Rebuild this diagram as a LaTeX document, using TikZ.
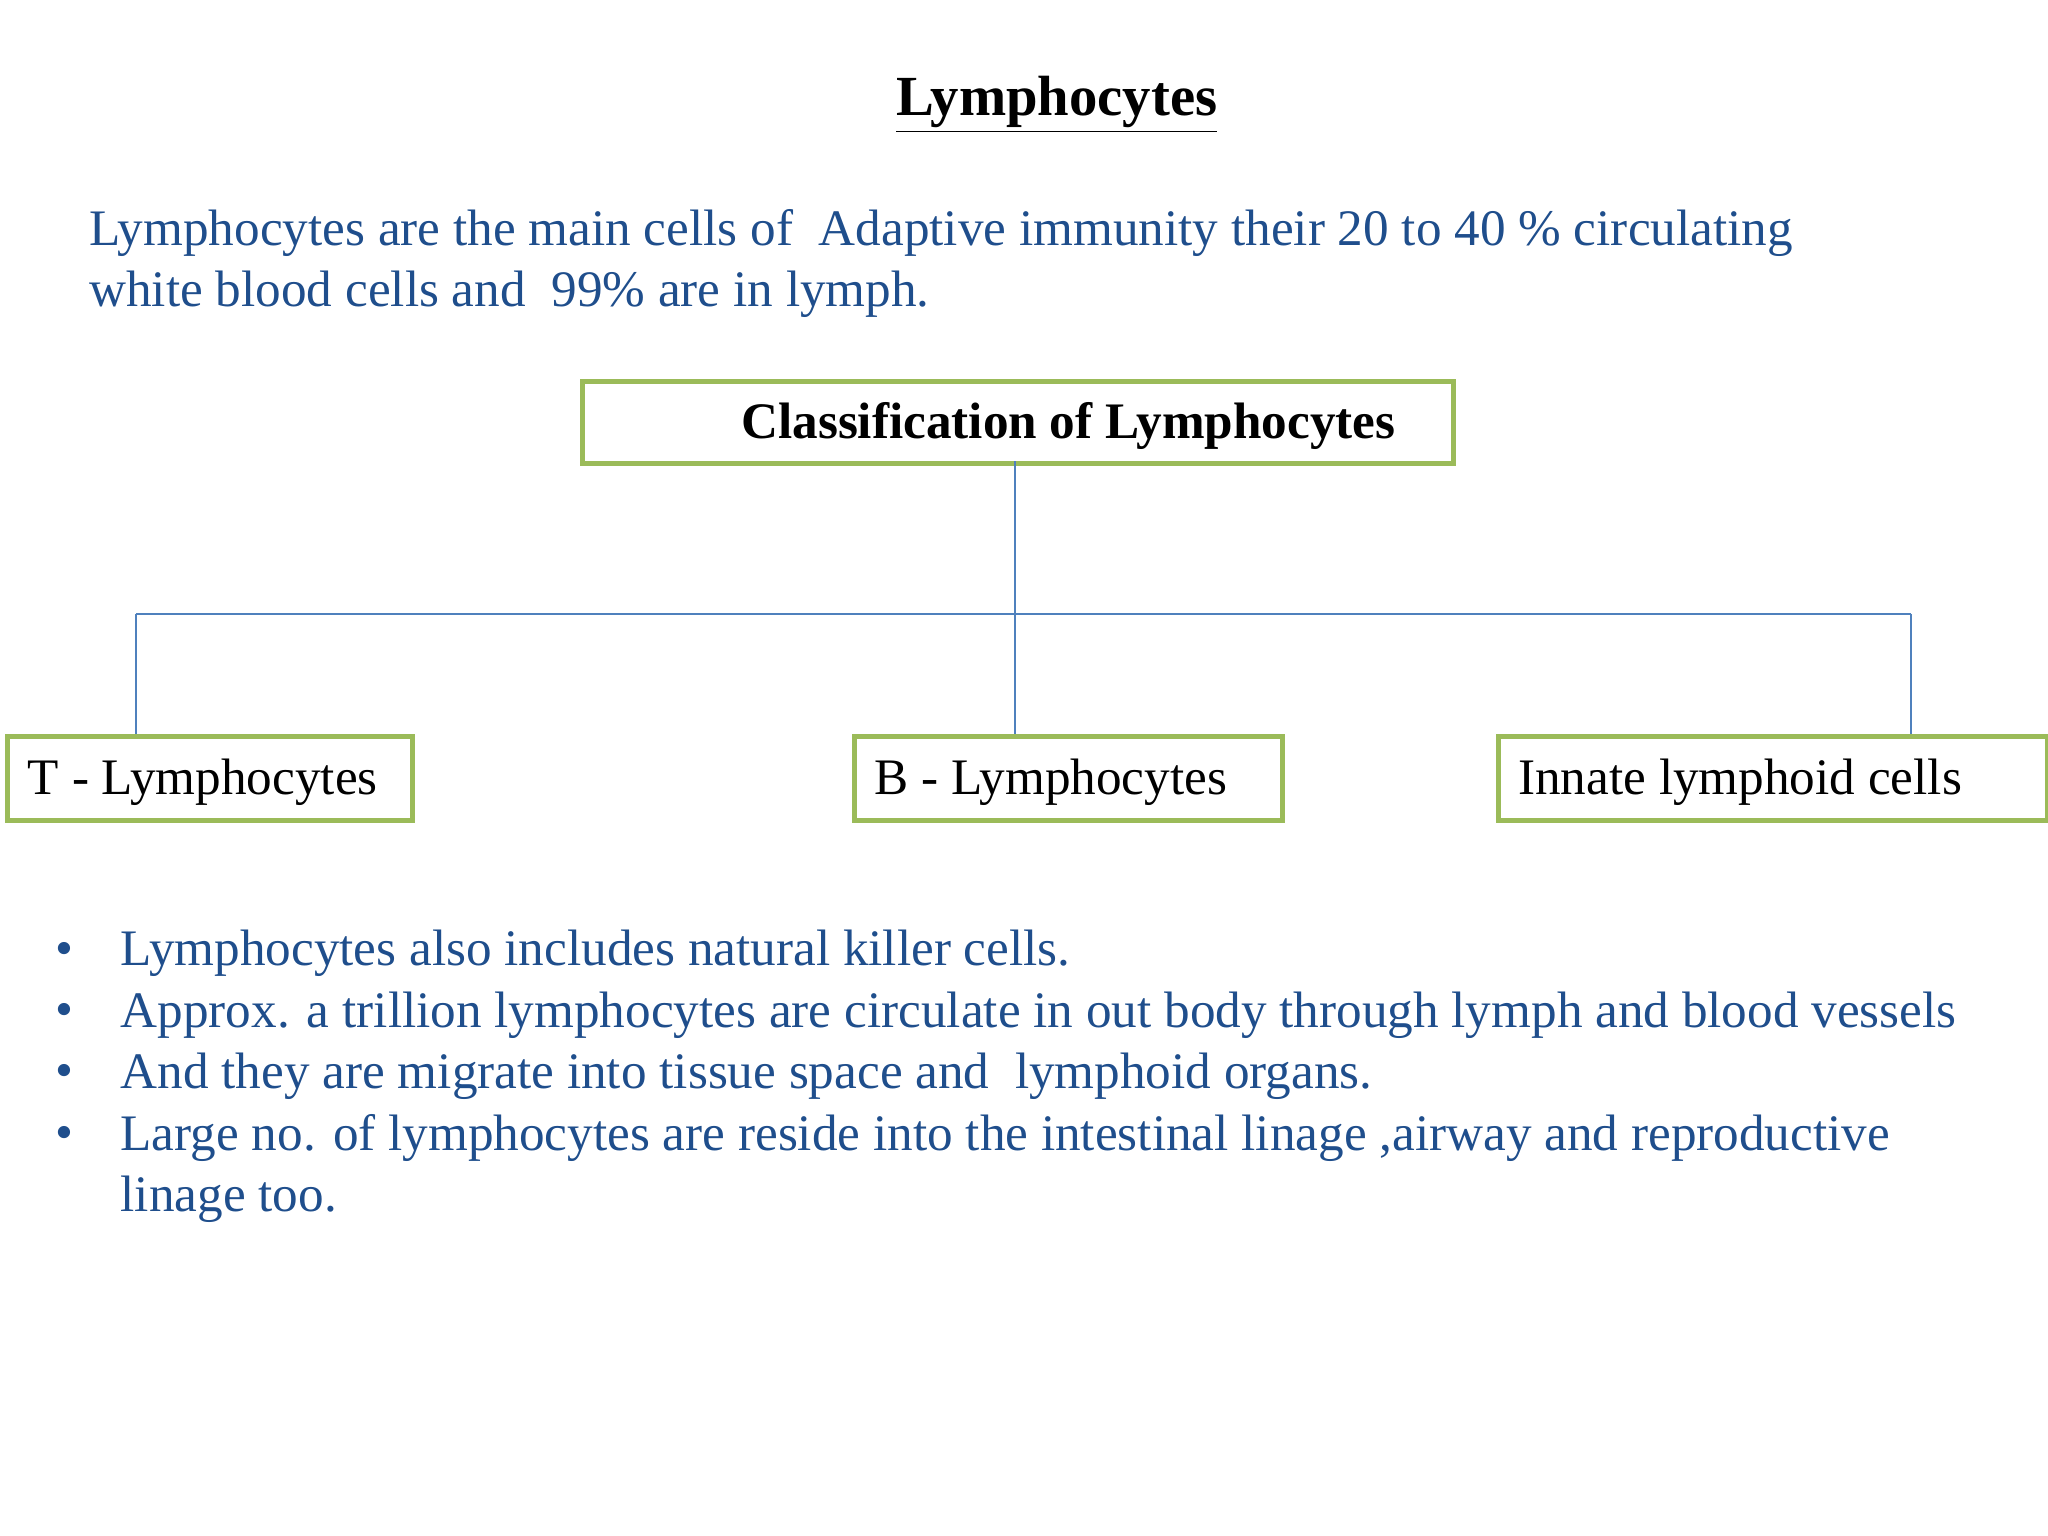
\documentclass[tikz,border=0pt]{standalone}
\usepackage{fontspec}
\setmainfont{Liberation Serif}
\definecolor{txtblue}{HTML}{1F4E8C}
\definecolor{boxgreen}{HTML}{9BBB59}
\definecolor{lineblue}{HTML}{4F81BD}
\begin{document}
\begin{tikzpicture}[x=0.5pt,y=-0.5pt,
  box/.style={draw=boxgreen,line width=2pt,inner sep=0pt,anchor=north west},
  lbl/.style={font=\fontsize{19.6}{23.5}\selectfont,anchor=west,inner sep=0pt},
  conn/.style={draw=lineblue,line width=0.8pt},
  para/.style={font=\fontsize{19.6}{23.5}\selectfont,text=txtblue,anchor=north west,inner sep=0pt,align=left}]
\useasboundingbox (0,0) rectangle (1568,1176);
\node[font=\fontsize{21.7}{26}\selectfont\bfseries] (title) at (809,80) {\underline{Lymphocytes}};
\node[para] (intro) at (68,160) {Lymphocytes are the main cells of \ Adaptive immunity their 20 to 40 \% circulating\\white blood cells and \ 99\% are in lymph.};
\node[box,minimum width=667*0.5pt,minimum height=63*0.5pt] (cls) at (444,290) {};
\node[font=\fontsize{19.6}{23.5}\selectfont\bfseries] (clst) at (818,326) {Classification of Lymphocytes};
\node[box,minimum width=310*0.5pt,minimum height=64*0.5pt] (tb) at (4,562) {};
\node[lbl] (tt) at (21,599) {T - Lymphocytes};
\node[box,minimum width=328*0.5pt,minimum height=64*0.5pt] (bb) at (652,562) {};
\node[lbl] (bt) at (669,599) {B - Lymphocytes};
\node[box,minimum width=421*0.5pt,minimum height=64*0.5pt] (ib) at (1145,562) {};
\node[lbl] (it) at (1162,599) {Innate lymphoid cells};
\coordinate (j) at (777,470);
\coordinate (jl) at (104,470);
\coordinate (jr) at (1463,470);
\path[conn] (777,353) -- (j) -- (777,562);
\path[conn] (jl) -- (jr);
\path[conn] (jl) -- (104,562);
\path[conn] (jr) -- (1463,562);
\foreach \y/\t [count=\i] in {730/Lymphocytes also includes natural killer cells.,
  777/Approx. a trillion lymphocytes are circulate in out body through lymph and blood vessels,
  824/{And they are migrate into tissue space and \ lymphoid organs.},
  871/{Large no. of lymphocytes are reside into the intestinal linage ,airway and reproductive}}{
  \node[lbl,text=txtblue] (b\i) at (42,\y) {•};
  \node[lbl,text=txtblue] (l\i) at (92,\y) {\t};
}
\node[lbl,text=txtblue] (l5) at (92,918) {linage too.};
\end{tikzpicture}
\end{document}
